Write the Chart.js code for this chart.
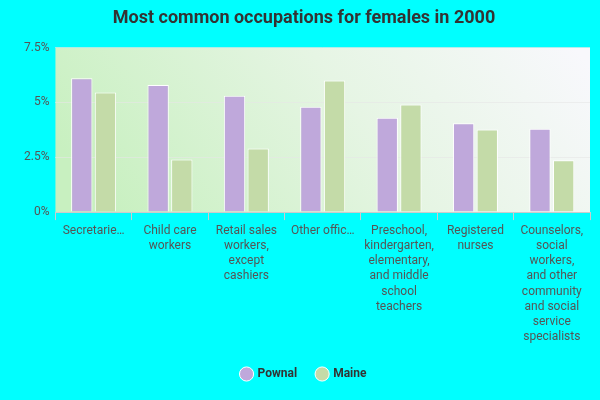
<!DOCTYPE html>
<html>
<head>
<script src="https://cdn.jsdelivr.net/npm/chart.js@4"></script>
<style>
  html, body { margin: 0; padding: 0; background: #00ffff; }
  #wrap { width: 600px; height: 400px; }
</style>
</head>
<body>
<div id="wrap"><canvas id="c"></canvas></div>
<script>
const categories = [
  'Secretarie…',
  ['Child care', 'workers'],
  ['Retail sales', 'workers,', 'except', 'cashiers'],
  'Other offic…',
  ['Preschool,', 'kindergarten,', 'elementary,', 'and middle', 'school', 'teachers'],
  ['Registered', 'nurses'],
  ['Counselors,', 'social', 'workers,', 'and other', 'community', 'and social', 'service', 'specialists']
];
const pownal = [6.1, 5.8, 5.3, 4.8, 4.3, 4.05, 3.8];
const maine = [5.45, 2.4, 2.9, 6.0, 4.9, 3.77, 2.36];
const yTicks = ['0%', '2.5%', '5%', '7.5%'];

// soft green wash at the bottom-left fading to white at the top-right
const bgPlugin = {
  id: 'bg',
  beforeDraw(chart) {
    const { ctx, chartArea: a } = chart;
    const g = ctx.createLinearGradient(a.left + 100, a.bottom + 60, a.right - 60, a.top - 60);
    g.addColorStop(0, '#c8f0c0');
    g.addColorStop(0.55, '#e6f5e4');
    g.addColorStop(1, '#f8f8fc');
    ctx.save();
    ctx.fillStyle = g;
    ctx.fillRect(a.left, a.top, a.right - a.left, a.bottom - a.top);
    ctx.restore();
  }
};

new Chart(document.getElementById('c'), {
  type: 'bar',
  data: {
    labels: categories,
    datasets: [
      { label: 'Pownal', data: pownal, backgroundColor: '#bfa8db', borderColor: '#ffffff', borderWidth: 1 },
      { label: 'Maine', data: maine, backgroundColor: '#c4dba8', borderColor: '#ffffff', borderWidth: 1 }
    ]
  },
  options: {
    responsive: true,
    maintainAspectRatio: false,
    animation: false,
    layout: { padding: { left: 18, right: 10, top: 0, bottom: 10 } },
    datasets: { bar: { categoryPercentage: 0.62, barPercentage: 0.9 } },
    plugins: {
      title: {
        display: true, text: 'Most common occupations for females in 2000',
        color: '#333', font: { family: 'Roboto', size: 18, weight: 'bold' },
        padding: { top: 8, bottom: 18 }
      },
      legend: {
        position: 'bottom',
        labels: {
          usePointStyle: true, pointStyle: 'circle', boxWidth: 10, boxHeight: 10,
          color: '#333', font: { family: 'Roboto', size: 12, weight: 'bold' }, padding: 20
        }
      },
      tooltip: { enabled: false }
    },
    scales: {
      x: {
        grid: { display: true, drawOnChartArea: false, color: '#ccc', tickLength: 8 },
        border: { color: '#ccc' },
        ticks: { color: '#555', font: { family: 'Roboto', size: 12, lineHeight: 1.27 }, maxRotation: 0, autoSkip: false }
      },
      y: {
        min: 0, max: 7.5,
        grid: { color: 'rgba(230,230,230,0.6)', drawTicks: false },
        border: { display: false },
        ticks: {
          stepSize: 2.5, padding: 6, color: '#555', font: { family: 'Roboto', size: 12 },
          callback: (v, i) => yTicks[i]
        }
      }
    }
  },
  plugins: [bgPlugin]
});
</script>
</body>
</html>
